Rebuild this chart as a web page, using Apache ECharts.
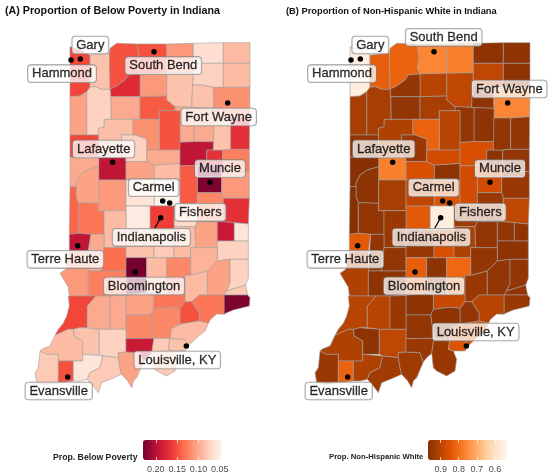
<!DOCTYPE html>
<html>
<head>
<meta charset="utf-8">
<style>html,body{margin:0;padding:0;background:#fff}#chart{width:550px;height:476px}</style>
<script src="https://cdn.jsdelivr.net/npm/echarts@6/dist/echarts.min.js"></script>
</head>
<body>
<div id="chart"></div>
<script>
// county outlines, units are 1/3 px of panel A
var countyShapes = {
  Lake: "210,140 240,150 270,165 270,262 260,275 240,288 210,290",
  Porter: "270,165 328,160 330,268 305,268 285,260 270,262",
  LaPorte: "330,145 350,130 412,132 417,175 412,205 420,222 385,225 375,240 350,258 330,268 328,160",
  StJoseph: "412,132 500,132 500,220 420,222 412,205 417,175",
  Elkhart: "500,132 580,130 580,218 500,220",
  LaGrange: "580,130 670,128 670,190 580,190",
  Steuben: "670,128 750,128 750,190 670,190",
  Noble: "580,190 670,190 670,262 640,262 605,255 578,255 580,218",
  DeKalb: "670,190 750,190 750,262 670,262",
  Kosciusko: "500,220 580,218 578,255 575,322 525,320 500,300",
  Marshall: "420,222 500,220 500,288 420,290",
  Starke: "330,268 350,258 375,240 385,225 420,222 420,290 332,290",
  Pulaski: "332,290 420,290 420,358 333,358",
  Fulton: "420,290 500,288 500,300 525,320 525,332 478,332 478,358 420,358",
  Whitley: "578,255 605,255 640,262 642,325 582,323 575,322",
  Allen: "640,262 670,262 750,262 749,350 692,354 642,354 642,325",
  Huntington: "582,323 642,325 642,425 582,425",
  Wabash: "525,320 575,322 582,323 582,425 540,427 540,332 525,332",
  Miami: "478,332 540,332 540,450 478,450",
  Cass: "398,358 478,358 478,450 440,450 440,418 405,405 398,405",
  White: "312,358 398,358 398,405 365,405 365,472 296,472 295,405 295,385 312,380",
  Carroll: "365,405 405,405 440,418 440,485 378,485 376,472 365,472",
  Tippecanoe: "296,472 376,472 378,485 378,540 296,540",
  Jasper: "260,275 270,262 285,260 305,268 330,268 332,290 333,358 312,358 312,380 295,385 295,405 260,405",
  Newton: "210,290 240,288 260,275 260,405 210,405",
  Benton: "210,405 295,405 296,472 210,472",
  Warren: "210,472 296,472 296,500 262,510 240,525 228,550 228,560 210,560",
  Fountain: "296,500 296,540 296,610 235,608 228,590 228,560 228,550 240,525 262,510",
  Vermillion: "210,560 228,560 228,590 235,608 235,700 208,703",
  Parke: "235,608 296,610 296,632 312,632 312,703 272,703 235,700",
  Montgomery: "296,540 378,540 378,632 296,632",
  Clinton: "378,485 440,485 463,495 463,540 378,540",
  Boone: "378,540 463,540 463,618 378,618",
  Hamilton: "463,540 540,540 540,612 522,618 463,618",
  Tipton: "463,495 540,490 540,540 463,540",
  Howard: "440,450 540,450 540,490 463,495 440,485",
  Grant: "540,427 582,425 642,425 640,450 620,450 620,497 540,497",
  Blackford: "620,450 668,450 668,497 620,497",
  Wells: "642,354 692,354 692,448 668,450 640,450",
  Adams: "692,354 749,350 748,448 692,448",
  Jay: "668,450 692,448 748,448 748,515 665,515 668,497",
  Delaware: "592,497 668,497 665,515 665,578 592,578",
  Randolph: "665,515 748,515 748,595 670,595 665,578",
  Madison: "540,497 592,497 592,612 540,612",
  Henry: "592,578 665,578 670,595 670,665 592,665",
  Wayne: "670,595 748,595 745,672 703,668 670,665",
  Hancock: "522,618 540,612 592,612 592,665 585,680 522,680",
  Marion: "450,618 522,618 522,690 450,690",
  Hendricks: "378,618 450,618 450,690 378,690",
  Putnam: "312,632 378,632 378,743 312,743",
  Clay: "272,703 312,703 312,743 305,813 265,813",
  Vigo: "208,703 235,700 272,703 265,753 208,753",
  Sullivan: "208,753 265,753 265,888 208,888 205,862 195,845 180,820 197,808 200,790",
  Owen: "312,743 378,743 378,813 305,813",
  Greene: "265,813 378,813 378,886 330,888 288,888 265,888",
  Morgan: "378,690 462,690 462,773 378,773",
  Monroe: "378,773 440,773 440,878 378,886",
  Brown: "440,773 500,773 500,883 440,878",
  Johnson: "462,690 522,690 522,773 462,773",
  Shelby: "522,680 585,680 587,743 572,743 572,773 522,773",
  Rush: "585,680 592,665 652,665 652,743 587,743",
  Fayette: "652,665 670,665 703,668 703,723 652,723",
  Union: "703,668 745,672 745,723 703,723",
  Franklin: "652,723 745,723 745,778 690,778 652,783",
  Decatur: "587,743 652,743 652,783 622,813 572,826 572,743",
  Bartholomew: "500,773 572,773 572,826 555,826 555,883 500,883",
  Jennings: "555,826 572,826 622,813 622,885 598,885 575,905 555,905",
  Ripley: "622,813 652,783 690,778 690,850 680,873 672,885 622,885",
  Dearborn: "690,778 745,778 745,835 737,855 680,873 690,850",
  Ohio: "680,873 737,855 743,885 672,885",
  Switzerland: "672,885 743,885 750,893 748,918 700,930 680,938 672,943",
  Jefferson: "575,905 598,885 672,885 672,943 650,942 632,958 625,970 597,963 597,940",
  Scott: "555,905 575,905 597,940 597,963 540,973 540,925",
  Jackson: "440,878 500,883 555,883 555,905 540,925 510,922 460,928 460,886",
  Lawrence: "378,886 440,878 460,886 460,928 452,945 378,945",
  Washington: "460,928 510,922 540,925 540,973 515,986 510,1015 462,1015 452,945",
  Orange: "378,945 452,945 462,1015 378,1016",
  Knox: "205,888 288,888 262,918 262,983 240,983 220,988 205,988 165,1006 175,988 190,970 200,948 208,918",
  Daviess: "288,888 330,888 330,988 298,988 262,983 262,918",
  Martin: "330,888 378,886 378,988 330,988",
  Pike: "220,988 240,983 298,988 298,1063 248,1063 248,1023 222,1008",
  Dubois: "298,988 378,988 378,1056 355,1058 355,1073 308,1068 298,1063",
  Gibson: "205,988 220,988 222,1008 248,1023 248,1083 175,1083 175,1063 140,1063 120,1053 128,1046 150,1038 165,1006",
  Posey: "120,1053 140,1063 175,1063 175,1148 140,1153 110,1148 105,1118 115,1103 118,1073",
  Vanderburgh: "175,1083 220,1083 220,1143 175,1148",
  Warrick: "248,1063 308,1068 300,1103 270,1118 262,1138 240,1143 220,1143 220,1083 248,1083",
  Spencer: "308,1068 355,1073 360,1103 365,1123 335,1136 305,1148 295,1178 280,1158 262,1138 270,1118 300,1103",
  Perry: "355,1058 378,1056 420,1058 430,1086 425,1098 410,1133 400,1143 395,1163 383,1143 365,1123 360,1103 355,1073",
  Crawford: "378,1016 462,1015 455,1060 440,1073 430,1086 420,1058 378,1056",
  Harrison: "462,1015 510,1015 505,1048 520,1053 530,1078 525,1113 500,1128 470,1113 460,1103 455,1060",
  Floyd: "510,1015 555,1018 565,1038 555,1053 520,1053 505,1048",
  Clark: "510,1015 515,986 540,973 597,963 625,970 615,993 590,1013 570,1033 565,1038 555,1018"
};

var belowPoverty = {
  Lake:.155, Porter:.085, LaPorte:.15, StJoseph:.15, Elkhart:.11, LaGrange:.065, Steuben:.09,
  Noble:.075, DeKalb:.09, Kosciusko:.085, Marshall:.11, Starke:.175, Pulaski:.10, Fulton:.145,
  Whitley:.085, Allen:.115, Huntington:.10, Wabash:.10, Miami:.15, Cass:.115, White:.088,
  Carroll:.075, Tippecanoe:.195, Jasper:.075, Newton:.105, Benton:.155, Warren:.10, Fountain:.105,
  Vermillion:.14, Parke:.13, Montgomery:.11, Clinton:.105, Boone:.06, Hamilton:.047, Tipton:.09,
  Howard:.10, Grant:.195, Blackford:.17, Wells:.085, Adams:.17, Jay:.125, Delaware:.225,
  Randolph:.11, Madison:.145, Henry:.12, Wayne:.17, Hancock:.07, Marion:.16, Hendricks:.055,
  Putnam:.09, Clay:.10, Vigo:.195, Sullivan:.11, Owen:.135, Greene:.125, Morgan:.085,
  Monroe:.23, Brown:.09, Johnson:.08, Shelby:.09, Rush:.105, Fayette:.19, Union:.06,
  Franklin:.075, Decatur:.095, Bartholomew:.12, Jennings:.09, Ripley:.105, Dearborn:.075, Ohio:.08,
  Switzerland:.225, Jefferson:.13, Scott:.15, Jackson:.13, Lawrence:.105, Washington:.12, Orange:.12,
  Knox:.155, Daviess:.10, Martin:.10, Pike:.085, Dubois:.075, Gibson:.09, Posey:.08,
  Vanderburgh:.15, Warrick:.06, Spencer:.08, Perry:.105, Crawford:.19, Harrison:.08, Floyd:.085,
  Clark:.09
};

var nonHispWhite = {
  Lake:.56, Porter:.83, LaPorte:.82, StJoseph:.76, Elkhart:.77, LaGrange:.96, Steuben:.96,
  Noble:.89, DeKalb:.96, Kosciusko:.89, Marshall:.90, Starke:.95, Pulaski:.95, Fulton:.92,
  Whitley:.96, Allen:.76, Huntington:.96, Wabash:.95, Miami:.90, Cass:.82, White:.91,
  Carroll:.94, Tippecanoe:.77, Jasper:.92, Newton:.92, Benton:.95, Warren:.97, Fountain:.96,
  Vermillion:.97, Parke:.95, Montgomery:.92, Clinton:.86, Boone:.89, Hamilton:.85, Tipton:.96,
  Howard:.87, Grant:.86, Blackford:.96, Wells:.95, Adams:.95, Jay:.95, Delaware:.87,
  Randolph:.94, Madison:.87, Henry:.94, Wayne:.89, Hancock:.93, Marion:.56, Hendricks:.84,
  Putnam:.94, Clay:.95, Vigo:.84, Sullivan:.91, Owen:.95, Greene:.96, Morgan:.94,
  Monroe:.83, Brown:.96, Johnson:.86, Shelby:.91, Rush:.95, Fayette:.95, Union:.96,
  Franklin:.96, Decatur:.95, Bartholomew:.81, Jennings:.94, Ripley:.95, Dearborn:.95, Ohio:.95,
  Switzerland:.94, Jefferson:.90, Scott:.95, Jackson:.88, Lawrence:.96, Washington:.96, Orange:.95,
  Knox:.90, Daviess:.90, Martin:.94, Pike:.96, Dubois:.89, Gibson:.91, Posey:.94,
  Vanderburgh:.82, Warrick:.91, Spencer:.93, Perry:.93, Crawford:.94, Harrison:.94, Floyd:.85,
  Clark:.85
};

// city dot and label box centre
var cityNames = ["Gary","Hammond","South Bend","Fort Wayne","Lafayette","Muncie","Carmel","Fishers","Indianapolis","Terre Haute","Bloomington","Louisville, KY","Evansville"];
var cityDots = [[241,177],[213,180],[462,155],[683,309],[338,487],[630,547],[488,603],[509,609],[482,653],[233,737],[405,816],[559,1038],[203,1131]];
var labelsA = [[271,135],[186,221],[490,197],[656,351],[311,447],[660,506],[461,563],[601,637],[454,712],[196,778],[432,858],[532,1080],[176,1173]];
var labelsB = [[271,135],[186,221],[491,112],[688,267],[311,447],[660,506],[461,563],[601,637],[454,712],[196,778],[432,858],[587,996],[176,1173]];

var povertyTicks = [0.20, 0.15, 0.10, 0.05];
var whiteTicks = [0.9, 0.8, 0.7, 0.6];
var povertyRange = [0.045, 0.23];
var whiteRange = [0.533, 0.97];

var features = [];
var xs = [], ys = [];
Object.keys(countyShapes).forEach(function (name) {
  var ring = countyShapes[name].split(" ").map(function (p) {
    var c = p.split(",");
    xs.push(+c[0]); ys.push(+c[1]);
    return [c[0] / 3, -c[1] / 3];
  });
  ring.push(ring[0]);
  features.push({type: "Feature", properties: {name: name}, geometry: {type: "Polygon", coordinates: [ring]}});
});
echarts.registerMap("indiana", {type: "FeatureCollection", features: features});

var minX = Math.min.apply(null, xs) / 3, maxX = Math.max.apply(null, xs) / 3;
var minY = Math.min.apply(null, ys) / 3, maxY = Math.max.apply(null, ys) / 3;
var font = "'Liberation Sans', Arial, sans-serif";

function toGeo(p) { return [p[0] / 3, -p[1] / 3]; }
function mapData(values) {
  return Object.keys(values).map(function (k) { return {name: k, value: values[k]}; });
}
function geoOption(dx) {
  return {
    map: "indiana", roam: false, silent: true, aspectScale: 1,
    left: minX + dx, top: minY, width: maxX - minX, height: maxY - minY,
    label: {show: false},
    itemStyle: {borderColor: "#a0a0a0", borderWidth: 0.6, areaColor: "#fff"}
  };
}
function panelSeries(geoIndex, values, labels) {
  return [
    {type: "map", geoIndex: geoIndex, data: mapData(values)},
    {
      type: "lines", coordinateSystem: "geo", geoIndex: geoIndex, silent: true, z: 3,
      lineStyle: {color: "#000", width: 1.2, opacity: 1, curveness: 0},
      data: [{coords: [toGeo(cityDots[8]), toGeo([labels[8][0] + 9, labels[8][1] - 25])]}]
    },
    {
      type: "scatter", coordinateSystem: "geo", geoIndex: geoIndex, silent: true, z: 4,
      symbolSize: 5.5, itemStyle: {color: "#000", opacity: 1},
      data: cityDots.map(toGeo)
    },
    {
      type: "scatter", coordinateSystem: "geo", geoIndex: geoIndex, silent: true, z: 5,
      symbolSize: 1, itemStyle: {color: "transparent"},
      data: labels.map(function (p, i) { return {name: cityNames[i], value: toGeo(p)}; }),
      label: {
        show: true, position: "inside", formatter: "{b}",
        fontFamily: font, fontSize: 13, color: "#000",
        textBorderColor: "#000", textBorderWidth: 0.3,
        backgroundColor: "rgba(255,255,255,0.93)", borderColor: "#808080", borderWidth: 0.8,
        borderRadius: 3, padding: [2.5, 4, 2.5, 4], lineHeight: 12
      }
    }
  ];
}
function legendAxis(gridIndex, position, range, ticks, digits) {
  return {
    type: "value", gridIndex: gridIndex, position: position, inverse: true,
    min: range[0], max: range[1], z: 10, splitLine: {show: false},
    axisLine: {show: false},
    axisTick: {show: true, inside: true, length: 3, customValues: ticks, lineStyle: {color: "#fff", width: 0.7}},
    axisLabel: {
      show: position === "bottom", customValues: ticks, margin: 5, fontFamily: font, fontSize: 9, color: "#4d4d4d",
      formatter: function (v) { return v.toFixed(digits); }
    }
  };
}

var option = {
  animation: false,
  backgroundColor: "#fff",
  title: [
    {text: "(A) Proportion of Below Poverty in Indiana", left: 5, top: 6, padding: 0, textStyle: {fontFamily: font, fontSize: 10.7, fontWeight: "bold", color: "#111"}},
    {text: "(B) Proportion of Non-Hispanic White in Indiana", left: 286, top: 7, padding: 0, textStyle: {fontFamily: font, fontSize: 9.3, fontWeight: "bold", color: "#111"}},
    {text: "Prop. Below Poverty", left: 53, top: 453, padding: 0, textStyle: {fontFamily: font, fontSize: 8.7, fontWeight: "bold", color: "#222"}},
    {text: "Prop. Non-Hispanic White", left: 329, top: 453, padding: 0, textStyle: {fontFamily: font, fontSize: 7.7, fontWeight: "bold", color: "#222"}}
  ],
  geo: [geoOption(0), geoOption(280)],
  visualMap: [
    {
      type: "continuous", seriesIndex: 0, min: povertyRange[0], max: povertyRange[1], orient: "horizontal", inverse: true,
      left: 143, top: 440, itemWidth: 20, itemHeight: 79, calculable: false, hoverLink: false, text: null, padding: 0,
      inRange: {color: ["#fff5f0", "#fedccd", "#fcb9a0", "#fc9272", "#fb6a4a", "#ef3b36", "#d41f38", "#a80d34", "#74002e"]}
    },
    {
      type: "continuous", seriesIndex: 4, min: whiteRange[0], max: whiteRange[1], orient: "horizontal", inverse: true,
      left: 428, top: 440, itemWidth: 20, itemHeight: 79, calculable: false, hoverLink: false, text: null, padding: 0,
      inRange: {color: ["#fff5eb", "#fee6ce", "#fdd0a2", "#fdae6b", "#fd8d3c", "#f16913", "#d94f02", "#aa3f03", "#863004"]}
    }
  ],
  grid: [
    {left: 143, top: 440, width: 79, height: 20},
    {left: 428, top: 440, width: 79, height: 20}
  ],
  xAxis: [
    legendAxis(0, "bottom", povertyRange, povertyTicks, 2),
    legendAxis(0, "top", povertyRange, povertyTicks, 2),
    legendAxis(1, "bottom", whiteRange, whiteTicks, 1),
    legendAxis(1, "top", whiteRange, whiteTicks, 1)
  ],
  yAxis: [{gridIndex: 0, show: false}, {gridIndex: 1, show: false}],
  series: panelSeries(0, belowPoverty, labelsA).concat(panelSeries(1, nonHispWhite, labelsB))
};

var myChart = echarts.init(document.getElementById("chart"), null, {renderer: "canvas"});
myChart.setOption(option);
</script>
</body>
</html>
